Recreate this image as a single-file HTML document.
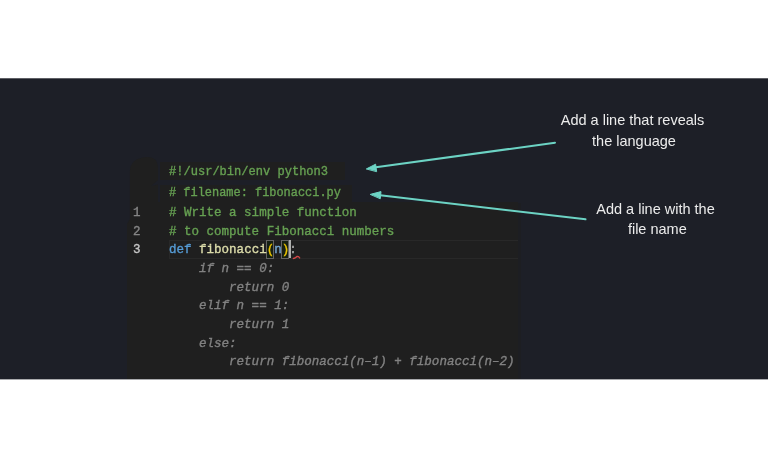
<!DOCTYPE html>
<html><head><meta charset="utf-8">
<style>
html,body{margin:0;padding:0;}
body{width:768px;height:458px;background:#fff;position:relative;overflow:hidden;}
.band{position:absolute;left:0;top:79px;width:768px;height:300px;background:#1d1f27;border-top:1px solid #5e5f65;border-bottom:1px solid #aaabae;margin-top:-1px;}
.box1{position:absolute;left:160px;top:162px;width:185px;height:18px;background:#1f1f1f;}
.box2{position:absolute;left:160px;top:185px;width:192px;height:17px;background:#1f1f1f;}
.code{position:absolute;font-family:"Liberation Mono",monospace;white-space:pre;line-height:18.75px;-webkit-text-stroke:0.35px currentColor;filter:blur(0.3px);}
.cm{color:#66a052;}
.ln{color:#858585;}
.lnc{color:#c6c6c6;}
.kw{color:#569cd6;}
.fn{color:#dcdcaa;}
.br{color:#eac400;}
.pv{color:#74a8d2;}
.gh{color:#828282;font-style:italic;}
.curline{position:absolute;left:169px;top:240px;width:348px;height:17px;border:1px solid #282828;border-right:none;}
.bbox{position:absolute;top:240px;width:6px;height:17px;background:#162013;border:1px solid #646464;}
.cursor{position:absolute;left:289px;top:240px;width:2px;height:18px;background:#aeafad;}
.note{position:absolute;font-family:"Liberation Sans",sans-serif;font-size:14.5px;color:#ececec;text-align:center;line-height:20.3px;white-space:pre;filter:blur(0.3px);}
svg{position:absolute;left:0;top:0;}
</style></head><body>
<div class="band"></div>
<svg width="768" height="458" viewBox="0 0 768 458">
  <path d="M127,379 L127,224 L129.8,219 L129.8,172 Q130.2,157.5 148,157 Q157.5,157 158,168 L158,202 L518,202 L518,379 Z" fill="#1f1f1f"/>
  <rect x="518" y="203" width="3" height="176" fill="#1d1e22"/>
  <polygon points="151,186 158,180.3 158,184.5" fill="#1d1f27"/>
</svg>
<div class="box1"></div>
<div class="box2"></div>
<div class="curline"></div>
<div class="bbox" style="left:266px"></div>
<div class="bbox" style="left:281px"></div>
<div class="code cm" style="left:169px;top:162.92px;font-size:12.05px;transform:scaleY(1.07);transform-origin:0 12.58px;">#!/usr/bin/env python3</div>
<div class="code cm" style="left:169px;top:184.44px;font-size:11.95px;transform:scaleY(1.07);transform-origin:0 12.56px;"># filename: fibonacci.py</div>
<div class="code ln" style="left:133px;top:203.79px;font-size:12.53px;transform:scaleY(1.07);transform-origin:0 12.71px;">1</div>
<div class="code ln" style="left:133px;top:222.59px;font-size:12.53px;transform:scaleY(1.07);transform-origin:0 12.71px;">2</div>
<div class="code lnc" style="left:133px;top:241.29px;font-size:12.53px;transform:scaleY(1.07);transform-origin:0 12.71px;">3</div>
<div class="code cm" style="left:169px;top:203.79px;font-size:12.53px;transform:scaleY(1.07);transform-origin:0 12.71px;"># Write a simple function</div>
<div class="code cm" style="left:169px;top:222.59px;font-size:12.53px;transform:scaleY(1.07);transform-origin:0 12.71px;"># to compute Fibonacci numbers</div>
<div class="code " style="left:169px;top:241.29px;font-size:12.53px;transform:scaleY(1.07);transform-origin:0 12.71px;"><span class="kw">def</span> <span class="fn">fibonacci</span><span class="br">(</span><span class="pv">n</span><span class="br">)</span><span style="color:#a8a8a8">:</span></div>
<div class="code gh" style="left:169px;top:259.99px;font-size:12.53px;transform:scaleY(1.07);transform-origin:0 12.71px;">    if n == 0:</div>
<div class="code gh" style="left:169px;top:278.69px;font-size:12.53px;transform:scaleY(1.07);transform-origin:0 12.71px;">        return 0</div>
<div class="code gh" style="left:169px;top:297.39px;font-size:12.53px;transform:scaleY(1.07);transform-origin:0 12.71px;">    elif n == 1:</div>
<div class="code gh" style="left:169px;top:316.09px;font-size:12.53px;transform:scaleY(1.07);transform-origin:0 12.71px;">        return 1</div>
<div class="code gh" style="left:169px;top:334.79px;font-size:12.53px;transform:scaleY(1.07);transform-origin:0 12.71px;">    else:</div>
<div class="code gh" style="left:169px;top:353.49px;font-size:12.53px;transform:scaleY(1.07);transform-origin:0 12.71px;">        return fibonacci(n–1) + fibonacci(n–2)</div>

<div class="cursor"></div>
<svg width="768" height="458" viewBox="0 0 768 458">
  <path d="M292.8 258.6 L295 258 L297.2 256.4 L298.6 256.6 L300 258.4" stroke="#d44848" stroke-width="1.3" fill="none" stroke-linejoin="round"/>
  <g stroke="#6cd3c4" stroke-width="2.0" fill="#6cd3c4" stroke-linecap="round">
    <line x1="555" y1="142.7" x2="374" y2="167.5"/>
    <polygon points="366.6,168.8 375.6,164.2 376.6,171.3" stroke-width="1"/>
    <line x1="585.5" y1="219.3" x2="378" y2="195"/>
    <polygon points="370.6,194.3 381,191.6 380.3,198.4" stroke-width="1"/>
  </g>
</svg>
<div class="note" style="left:482.50px;top:110.13px;width:300px;">Add a line that reveals</div>
<div class="note" style="left:484.00px;top:130.93px;width:300px;">the language</div>
<div class="note" style="left:505.50px;top:198.93px;width:300px;">Add a line with the</div>
<div class="note" style="left:507.30px;top:218.93px;width:300px;">file name</div>

</body></html>
